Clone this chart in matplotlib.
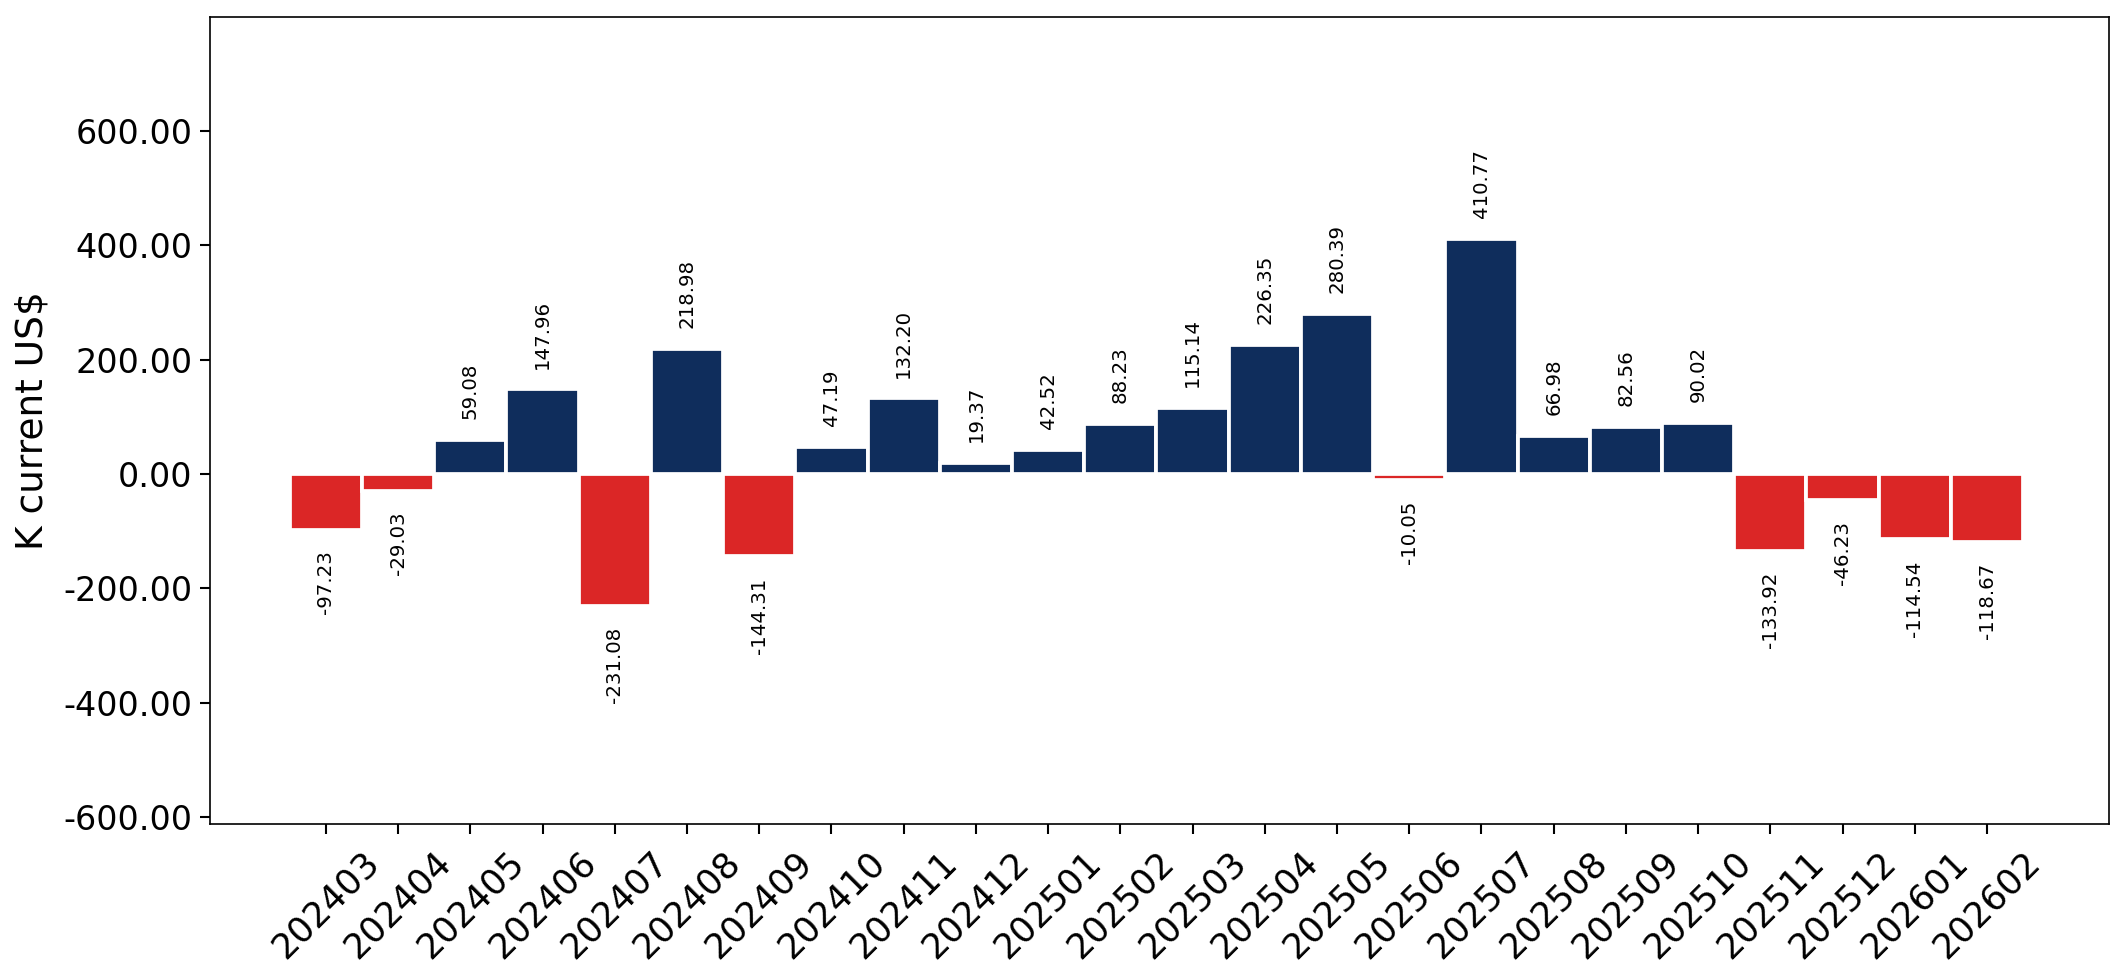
import matplotlib
matplotlib.use("Agg")
import matplotlib.pyplot as plt
import numpy as np

months = [
    "202403", "202404", "202405", "202406", "202407", "202408", "202409",
    "202410", "202411", "202412", "202501", "202502", "202503", "202504",
    "202505", "202506", "202507", "202508", "202509", "202510", "202511",
    "202512", "202601", "202602",
]
values = [
    -97.23, -29.03, 59.08, 147.96, -231.08, 218.98, -144.31,
    47.19, 132.20, 19.37, 42.52, 88.23, 115.14, 226.35,
    280.39, -10.05, 410.77, 66.98, 82.56, 90.02, -133.92,
    -46.23, -114.54, -118.67,
]

POS_COLOR = "#0f2d5c"
NEG_COLOR = "#db2626"

x = np.arange(len(months))
colors = [POS_COLOR if v >= 0 else NEG_COLOR for v in values]

fig, ax = plt.subplots(figsize=(14.16, 6.5), dpi=150)
ax.bar(x, values, width=1.0, color=colors, edgecolor="white", linewidth=1.8)

for xi, v in zip(x, values):
    ax.annotate(
        f"{v:.2f}",
        xy=(xi, v),
        xytext=(0, 10 if v >= 0 else -10),
        textcoords="offset points",
        rotation=90,
        ha="center",
        va="bottom" if v >= 0 else "top",
        fontsize=9.5,
    )

ax.set_xticks(x)
ax.set_xticklabels(months, rotation=45, fontsize=17)
ax.set_xlim(-1.6, len(months) - 1 + 1.69)
ax.set_ylim(-612, 800)
ax.set_yticks([-600, -400, -200, 0, 200, 400, 600])
ax.set_yticklabels([f"{t:.2f}" for t in ax.get_yticks()], fontsize=16)
ax.tick_params(length=5, width=1)
ax.tick_params(axis="x", pad=5)
ax.set_ylabel("K current US$", fontsize=18, labelpad=6)

fig.subplots_adjust(left=0.099, right=0.993, top=0.983, bottom=0.155)
fig.savefig("out.png", dpi=150)
plt.close(fig)
